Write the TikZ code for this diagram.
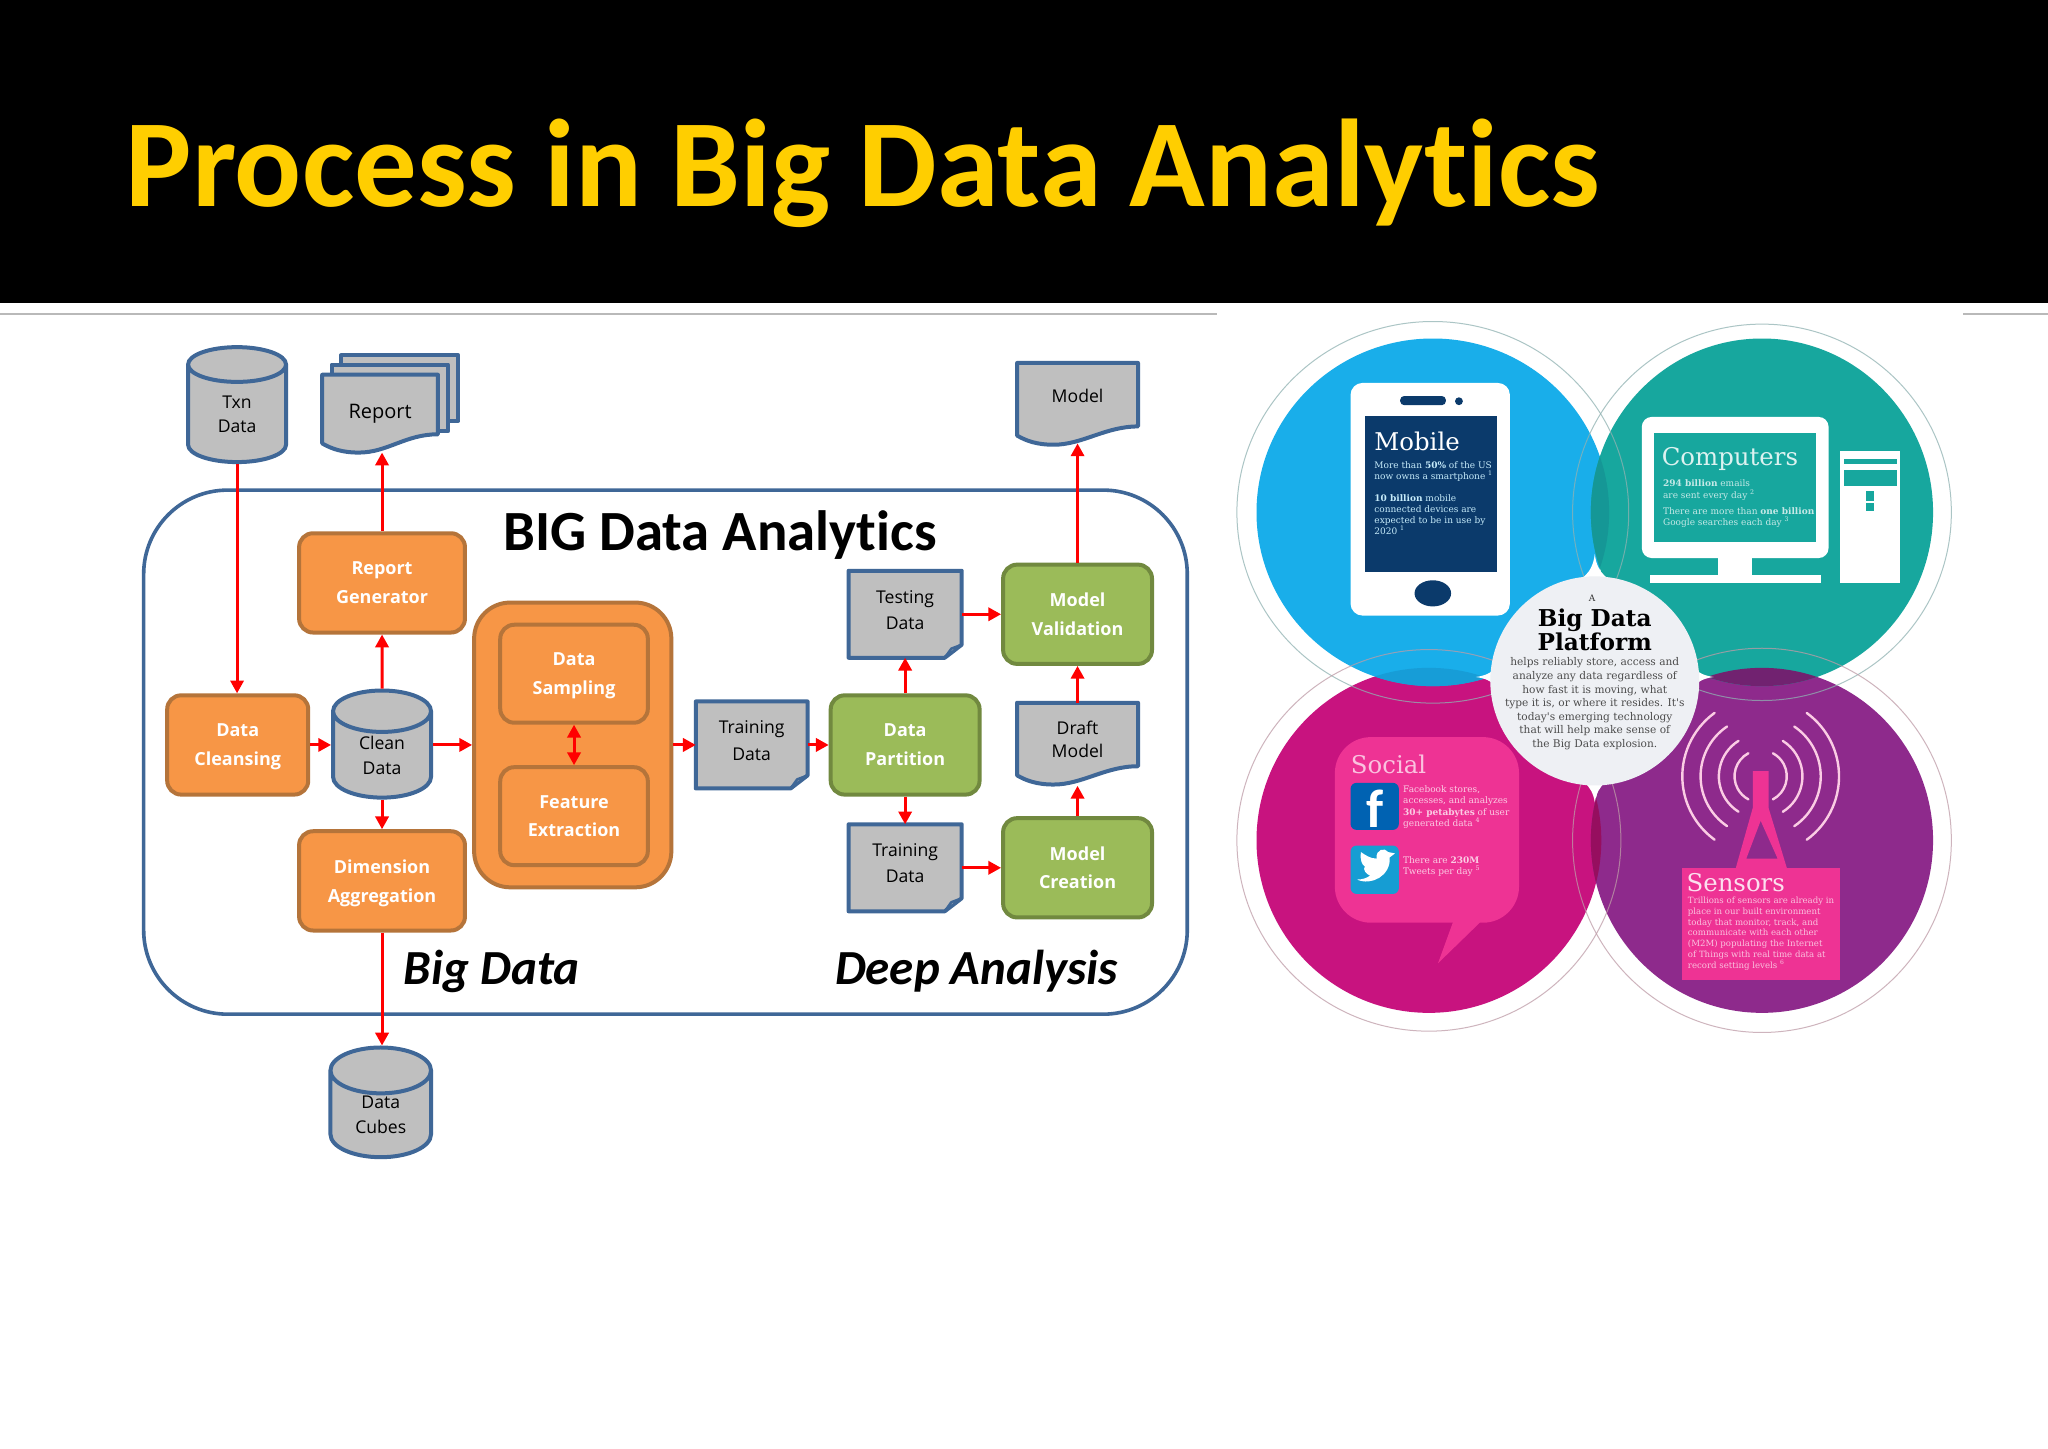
\documentclass[tikz,border=0pt]{standalone}
\usepackage{fontspec}
\setmainfont{Open Sans}
\newfontfamily\calfont[Ligatures=NoCommon]{Carlito}
\newfontfamily\slabfont{DejaVu Serif}
\usetikzlibrary{arrows.meta,shapes.geometric,calc,backgrounds}
\definecolor{stk}{HTML}{3F6797}
\definecolor{gry}{HTML}{BFBFBF}
\definecolor{org}{HTML}{F79646}
\definecolor{orgd}{HTML}{B5743A}
\definecolor{grn}{HTML}{9BBB59}
\definecolor{grnd}{HTML}{71893F}
\definecolor{ttl}{HTML}{FFCE00}
\definecolor{cblue}{HTML}{19AEEA}
\definecolor{cteal}{HTML}{17A79E}
\definecolor{cmag}{HTML}{C8137F}
\definecolor{cpur}{HTML}{8E2A8C}
\definecolor{navy}{HTML}{0B3A6B}
\definecolor{hotp}{HTML}{EE3394}
\definecolor{ctr}{HTML}{EEF0F4}
\def\uu{0.6531pt}
\newcommand\nodp[1]{\raisebox{0pt}[\height][0pt]{#1}}
\newcommand\twolines[2]{\raisebox{4.4pt}{\shortstack{#1\\[1.7pt]#2}}}
\tikzset{
  sz/.style 2 args={minimum width=#1*\uu, minimum height=#2*\uu, inner sep=0pt},
  boxbase/.style={rounded corners=7pt, line width=2pt, align=center, text=white,
     font=\fontsize{9}{14.4}\selectfont\bfseries},
  orangebox/.style={boxbase, draw=orgd, fill=org},
  greenbox/.style={boxbase, draw=grnd, fill=grn},
  greybase/.style={align=center, text=black, font=\fontsize{8.8}{12.4}\selectfont},
  docbox/.style={greybase},
  dbcyl/.style={greybase, cylinder, shape border rotate=90, aspect=0.9, draw=stk, fill=gry,
     line width=2pt, inner sep=0pt},
  sheet/.style={draw=stk, fill=gry, line width=2pt, line join=round},
  flow/.style={draw=red, line width=1.5pt, -{Triangle[length=6.4pt,width=6.6pt]}},
  flowboth/.style={draw=red, line width=1.5pt, {Triangle[length=6.4pt,width=6.6pt]}-{Triangle[length=6.4pt,width=6.6pt]}},
  hd/.style={font=\calfont\fontsize{28.4}{30}\selectfont\bfseries, text=black, inner sep=0pt},
  hdit/.style={font=\calfont\fontsize{24.5}{28}\selectfont\bfseries\itshape, text=black, inner sep=0pt},
  tiny/.style={font=\slabfont\fontsize{4.5}{5.6}\selectfont, align=left, inner sep=0pt, anchor=north west},
  big/.style={font=\slabfont\fontsize{12.2}{14}\selectfont, inner sep=0pt, anchor=base west},
  ring/.style={line width=0.5pt, opacity=0.75},
}
% wavy-bottom document, drawn behind the named node
\newcommand\wavedoc[1]{\draw[sheet]
  ($(#1.south west)+(0,-7)$) -- (#1.north west) -- (#1.north east) -- ($(#1.south east)+(0,-14)$)
  .. controls ($(#1.south east)+(-25,-14)$) and ($(#1.south west)+(50,0)$) .. ($(#1.south west)+(28,0)$)
  .. controls ($(#1.south west)+(15,0)$) and ($(#1.south west)+(7,-3)$) .. cycle;}
% dog-eared note, drawn behind the named node
\newcommand\notedoc[1]{\draw[sheet]
  (#1.north west) -- (#1.north east) -- ($(#1.south east)+(0,-10)$) -- ($(#1.south east)+(-13,0)$) -- (#1.south west) -- cycle;
  \draw[stk, fill=gry!70!stk, line width=1.2pt, line join=round]
  ($(#1.south east)+(0,-10)$) -- ($(#1.south east)+(-8,-7)$) -- ($(#1.south east)+(-13,0)$) -- cycle;}
\begin{document}
\begin{tikzpicture}[x=\uu, y=-0.6535pt]
\useasboundingbox (0,0) rectangle (1568,1108);
% header
\fill[black] (0,0) rectangle (1568,232);
\node[anchor=base west, inner sep=0pt, text=ttl, font=\calfont\fontsize{62.4}{62}\selectfont\bfseries] (title) at (96,158) {Process in Big Data Analytics};
\draw[gray!55, line width=1pt] (0,240) -- (932,240);
\draw[gray!55, line width=1pt] (1503,240) -- (1568,240);

% === process nodes ===
\node[sz={88}{59}, docbox] (report) at (291,316.5) {\fontsize{10}{12}\selectfont Report};
\node[sz={92}{62}, docbox] (model) at (825,309) {\raisebox{8pt}{Model}};
\node[sz={92}{62}, docbox] (draft) at (825,569) {\twolines{Draft}{Model}};
\node[sz={85}{66}, docbox] (train) at (575.5,570) {\twolines{Training}{Data}};
\node[sz={86}{66}, docbox] (test) at (693,470) {\twolines{Testing}{Data}};
\node[sz={86}{66}, docbox] (train2) at (693,664) {\twolines{Training}{Data}};

\begin{pgfonlayer}{background}
  \fill[white] (0,0) rectangle (1568,1108);
  \draw[stk, fill=white, line width=1.8pt, rounded corners=42pt] (110,375) rectangle (909,776);
  \draw[sheet] (261,272) rectangle (351,322);
  \draw[sheet] (254,279) rectangle (343,330);
  \wavedoc{report}
  \wavedoc{model}
  \wavedoc{draft}
  \notedoc{train}
  \notedoc{test}
  \notedoc{train2}
\end{pgfonlayer}

\node[dbcyl, minimum height=88*\uu, minimum width=75*\uu] (txn) at (181.5,317) {Txn\\Data};
\node[dbcyl, minimum height=82*\uu, minimum width=75*\uu] (clean) at (292.5,578) {Clean\\Data};
\node[dbcyl, minimum height=84*\uu, minimum width=77*\uu] (cubes) at (291.5,853) {Data\\Cubes};

\node[orangebox, sz={127}{76}] (repgen) at (292.5,446) {Report\\Generator};
\node[orangebox, sz={108}{76}] (cleansing) at (182,570) {Data\\\nodp{Cleansing}};
\node[orangebox, sz={127}{76}] (dimagg) at (292.5,674) {Dimension\\\nodp{Aggregation}};
\node[orangebox, sz={151}{218}, rounded corners=18pt] (group) at (438.5,570) {};
\node[orangebox, sz={113}{75}] (sampling) at (439.5,515.5) {Data\\\nodp{Sampling}};
\node[orangebox, sz={113}{75}] (feature) at (439.5,624.5) {Feature\\Extraction};
\node[greenbox, sz={114}{76}] (partition) at (693,570) {Data\\Partition};
\node[greenbox, sz={114}{76}] (validation) at (825,470) {Model\\Validation};
\node[greenbox, sz={114}{76}] (creation) at (825,664) {Model\\Creation};

\node[hd, anchor=base west] (bigtitle) at (385,421) {BIG Data Analytics};
\node[hdit, anchor=base west] (bigdata) at (309,753) {Big Data};
\node[hdit, anchor=base west] (deep) at (639,753) {Deep Analysis};

% === connectors ===
\draw[flow] (txn.south) -- (txn.south |- cleansing.north);
\draw[flow] (repgen.north) -- (repgen.north |- report.south);
\draw[flow] (clean.north) -- (repgen.south);
\draw[flow] (cleansing.east) -- (clean.west |- cleansing.east);
\draw[flow] (clean.east |- group.west) -- (group.west);
\draw[flow] (clean.south) -- (dimagg.north);
\draw[flow] (dimagg.south) -- (dimagg.south |- cubes.north);
\draw[flowboth] (sampling.south) -- (feature.north);
\draw[flow] (group.east) -- (train.west);
\draw[flow] (train.east) -- (partition.west);
\draw[flow] (partition.north) -- (test.south);
\draw[flow] (partition.south) -- (train2.north);
\draw[flow] (test.east) -- (validation.west);
\draw[flow] (train2.east) -- (creation.west);
\draw[flow] (creation.north) -- ($(draft.south)+(0,1)$);
\draw[flow] (draft.north) -- (validation.south);
\draw[flow] (validation.north) -- ($(model.south)+(0,-1)$);

% === infographic ===
\fill[cmag] (1094,643) circle[x radius=132, y radius=132];
\fill[cpur] (1349,643) circle[x radius=131, y radius=132];
\fill[cblue] (1097,392) circle[x radius=135, y radius=133];
\fill[cteal] (1349,392) circle[x radius=131, y radius=133];
% lenses
\begin{scope}
  \clip (1349,643) circle[x radius=131, y radius=132];
  \fill[cpur!80!black] (1349,392) circle[x radius=131, y radius=133];
\end{scope}
\begin{scope}
  \clip (1094,643) circle[x radius=132, y radius=132];
  \fill[cblue!85!navy] (1097,392) circle[x radius=135, y radius=133];
  \fill[cmag!75!black] (1349,643) circle[x radius=131, y radius=132];
\end{scope}
\begin{scope}
  \clip (1097,392) circle[x radius=135, y radius=133];
  \fill[cteal!85!navy] (1349,392) circle[x radius=131, y radius=133];
\end{scope}
% rings
\draw[ring, draw=teal!45!gray!60] (1097,392) circle[x radius=150, y radius=146];
\draw[ring, draw=teal!45!gray!60] (1349,392) circle[x radius=145, y radius=144];
\draw[ring, draw=purple!30!gray!60] (1094,643) circle[x radius=147, y radius=146];
\draw[ring, draw=purple!30!gray!60] (1349,643) circle[x radius=145, y radius=147];

% phone
\fill[white, rounded corners=6pt] (1034,293) rectangle (1156,471);
\fill[navy] (1045,318) rectangle (1146,438);
\fill[navy, rounded corners=2pt] (1072,303) rectangle (1107,310);
\fill[navy] (1117,307) circle[radius=3];
\fill[navy] (1097,454) circle[x radius=14, y radius=10];
\node[big, text=white] (mobile) at (1052,345) {Mobile};
\node[tiny, text=white!75!cblue] (mobtxt1) at (1052,353) {More than \textbf{50\%} of the US\\now owns a smartphone \textsuperscript{1}};
\node[tiny, text=white!75!cblue] (mobtxt2) at (1052,378) {\textbf{10 billion} mobile\\connected devices are\\expected to be in use by\\2020 \textsuperscript{1}};

% computer
\fill[white, rounded corners=5pt] (1257,319) rectangle (1400,427);
\fill[cteal] (1266,331) rectangle (1390,415);
\fill[white] (1315,427) rectangle (1341,440);
\fill[white] (1263,440) rectangle (1394,446);
\fill[white] (1409,345) rectangle (1455,446);
\fill[cteal] (1412,351) rectangle (1452,355);
\fill[cteal] (1412,360) rectangle (1452,372);
\fill[cteal] (1429,376) rectangle (1435,383);
\fill[cteal] (1429,385) rectangle (1435,391);
\node[big, text=white!85!cteal] (computers) at (1272,356) {Computers};
\node[tiny, text=white!75!cteal] (comptxt1) at (1273,367) {\textbf{294 billion} emails\\are sent every day \textsuperscript{2}};
\node[tiny, text=white!75!cteal] (comptxt2) at (1273,388) {There are more than \textbf{one billion}\\Google searches each day \textsuperscript{3}};

% social
\fill[hotp, rounded corners=18pt] (1022,564) rectangle (1163,706);
\fill[hotp] (1113,704) -- (1101,737) -- (1135,704) -- cycle;
\node[big, text=white!70!hotp] (social) at (1034,592) {Social};
\fill[blue!45!cyan!70!black, rounded corners=3pt] (1034,599) rectangle (1071,635);
\fill[cblue!90!black, rounded corners=3pt] (1034,647) rectangle (1071,684);
\node[inner sep=0pt, text=white, font=\fontsize{27}{27}\selectfont\bfseries\calfont] (fbf) at (1053,619) {f};
\fill[white] (1039,673) .. controls (1050,678) and (1065,670) .. (1064,656)
  -- (1068,653) -- (1063,652) .. controls (1060,648) and (1053,650) .. (1054,657)
  .. controls (1049,657) and (1045,654) .. (1042,652)
  .. controls (1041,658) and (1043,662) .. (1045,663)
  .. controls (1043,665) and (1046,669) .. (1049,670)
  .. controls (1046,672) and (1043,673) .. cycle;
\node[tiny, text=white!75!hotp] (soctxt1) at (1074,601) {Facebook stores,\\accesses, and analyzes\\\textbf{30+ petabytes} of user\\generated data \textsuperscript{4}};
\node[tiny, text=white!75!hotp] (soctxt2) at (1074,655) {There are \textbf{230M}\\Tweets per day \textsuperscript{5}};

% sensors
\fill[hotp] (1288,664) rectangle (1409,750);
\fill[hotp, even odd rule] (1342,590) -- (1354,590) -- (1354,618) -- (1368,664) -- (1329,664) -- (1342,618) -- cycle
   (1348,628) -- (1361,657) -- (1337,657) -- cycle;
\node[big, text=white!85!hotp] (sensors) at (1291,682) {Sensors};
\node[tiny, font=\slabfont\fontsize{4.3}{5.4}\selectfont, text=white!70!hotp] (sentxt) at (1292,686) {Trillions of sensors are already in\\place in our built environment\\today that monitor, track, and\\communicate with each other\\(M2M) populating the Internet\\of Things with real time data at\\record setting levels \textsuperscript{6}};
\foreach \r/\a in {20/62,32/58,46/56,60/54}{
  \draw[white!75!hotp, line width=1.2pt, line cap=round]
    ($(1348,594)+({\r*cos(180-\a)},{-\r*sin(180-\a)})$) arc[start angle=180-\a, end angle=180+\a, radius=\r*\uu];
  \draw[white!75!hotp, line width=1.2pt, line cap=round]
    ($(1348,594)+({\r*cos(-\a)},{-\r*sin(-\a)})$) arc[start angle=-\a, end angle=\a, radius=\r*\uu];
}

% centre
\fill[white] (1221,424) .. controls (1223,440) and (1232,445) .. (1245,448) -- (1197,448) .. controls (1210,445) and (1219,440) .. cycle;
\fill[white] (1221,614) .. controls (1223,600) and (1232,595) .. (1245,592) -- (1197,592) .. controls (1210,595) and (1219,600) .. cycle;
\fill[white] (1312,518) .. controls (1298,516) and (1295,510) .. (1292,500) -- (1292,536) .. controls (1295,526) and (1298,520) .. cycle;
\fill[white] (1130,518) .. controls (1144,516) and (1147,510) .. (1150,500) -- (1150,536) .. controls (1147,526) and (1144,520) .. cycle;
\fill[ctr] (1221,521) circle[radius=80];
\node[inner sep=0pt, text=black!80, font=\slabfont\fontsize{4.5}{5}\selectfont] (ctra) at (1219,458) {A};
\node[inner sep=0pt, align=center, text=black, font=\slabfont\fontsize{11.6}{11.8}\selectfont\bfseries] (ctrtitle) at (1221,482) {Big Data\\Platform};
\node[inner sep=0pt, align=center, anchor=north, text=black!70, font=\slabfont\fontsize{5.3}{6.8}\selectfont] (ctrbody) at (1221,503) {helps reliably store, access and\\analyze any data regardless of\\how fast it is moving, what\\type it is, or where it resides. It's\\today's emerging technology\\that will help make sense of\\the Big Data explosion.};
\end{tikzpicture}
\end{document}
